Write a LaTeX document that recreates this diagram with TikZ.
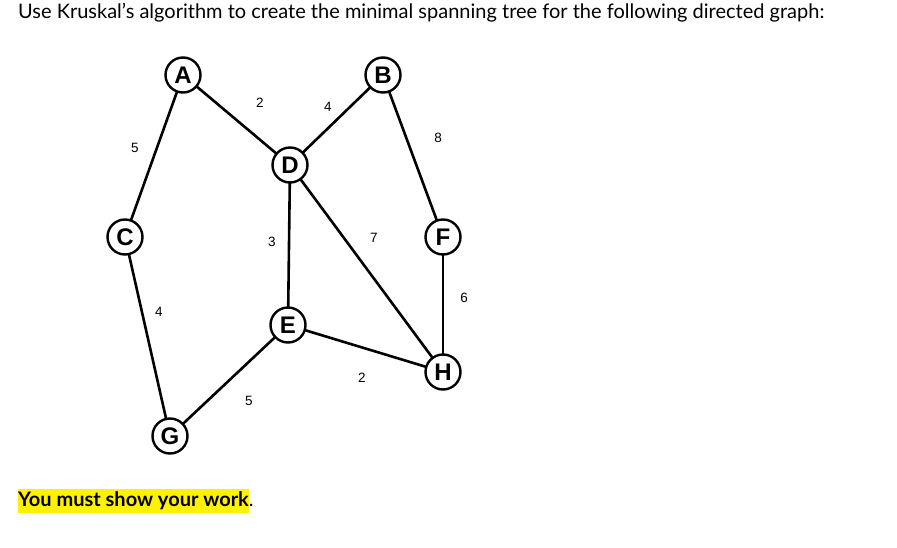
\documentclass[tikz,border=0pt]{standalone}
\usepackage{fontspec}
\setmainfont{Lato}
\newfontfamily\arialf{Liberation Sans}
\begin{document}
\begin{tikzpicture}[x=1pt,y=-1pt,
  vert/.style={circle,draw,line width=2.4pt,minimum size=35pt,inner sep=0pt,font=\arialf\bfseries\fontsize{24}{24}\selectfont,fill=white},
  edge/.style={line width=2.6pt},
  wt/.style={font=\arialf\fontsize{13.5}{13.5}\selectfont}]
\useasboundingbox (0,0) rectangle (897,548);
\node[anchor=west,inner sep=0pt,font=\fontsize{20}{22}\selectfont] (title) at (18,13) {Use Kruskal{\char"27}s algorithm to create the minimal spanning tree for the following directed graph:};
\draw[edge] (183,75) -- (290,165);
\draw[edge] (183,75) -- (125,237);
\draw[edge] (383,75) -- (290,165);
\draw[edge] (383,75) -- (443,237);
\draw[edge] (290,165) -- (288,325);
\draw[edge] (290,165) -- (443,372);
\draw[edge] (443,237) -- (443,372);
\draw[edge] (125,237) -- (170,436);
\draw[edge] (288,325) -- (443,372);
\draw[edge] (288,325) -- (170,436);
\node[vert] (A) at (183,75) {A};
\node[vert] (B) at (383,75) {B};
\node[vert] (D) at (290,165) {D};
\node[vert] (C) at (125,237) {C};
\node[vert] (F) at (443,237) {F};
\node[vert] (E) at (288,325) {E};
\node[vert] (H) at (443,372) {H};
\node[vert] (G) at (170,436) {G};
\node[wt] (w1) at (260,103) {2};
\node[wt] (w2) at (328,107) {4};
\node[wt] (w3) at (438,138) {8};
\node[wt] (w4) at (135,148) {5};
\node[wt] (w5) at (272,242) {3};
\node[wt] (w6) at (374,238) {7};
\node[wt] (w7) at (464,298) {6};
\node[wt] (w8) at (159,312) {4};
\node[wt] (w9) at (362,378) {2};
\node[wt] (w10) at (249,401) {5};
\node[anchor=west,inner sep=0pt,font=\fontsize{20}{22}\selectfont] (note) at (18,501) {\colorbox{yellow}{\hspace{-3pt}\bfseries You must show your work\hspace{-3pt}}.};
\end{tikzpicture}
\end{document}
